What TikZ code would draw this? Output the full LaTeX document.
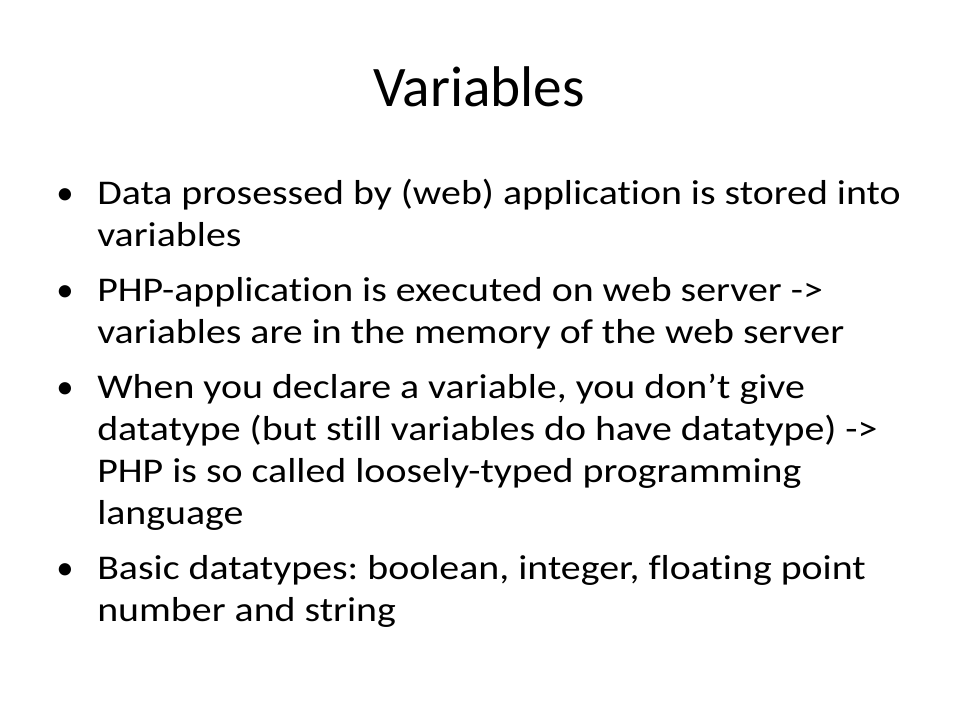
\documentclass[tikz,border=0pt]{standalone}
\usepackage{fontspec}
\setmainfont[Ligatures=NoCommon]{Carlito}
\newfontfamily\bodyfont[Ligatures=NoCommon,FakeStretch=1.15]{Carlito}
\usetikzlibrary{positioning}
\begin{document}
\frenchspacing
\begin{tikzpicture}[x=0.75pt,y=-0.75pt,
  line/.style={anchor=base west,inner sep=0pt,font=\bodyfont\fontsize{26}{32}\selectfont},
  dot/.style={anchor=base,inner sep=0pt,font=\fontsize{26}{32}\selectfont}]
\useasboundingbox (0,0) rectangle (960,720);
% Title
\node[anchor=base,inner sep=0pt,font=\fontsize{43}{52}\selectfont] (title) at (479,107) {Variables};
% Bullet 1
\node[dot] (dot1) at (65,204.5) {•};
\node[line] (l1a) at (97,204.5) {Data prosessed by (web) application is stored into};
\node[line] (l1b) at (97,246.8) {variables};
% Bullet 2
\node[dot] (dot2) at (65,301.25) {•};
\node[line] (l2a) at (97,301.25) {PHP-application is executed on web server ->};
\node[line] (l2b) at (97,343.55) {variables are in the memory of the web server};
% Bullet 3
\node[dot] (dot3) at (65,398) {•};
\node[line] (l3a) at (97,398) {When you declare a variable, you don’t give};
\node[line] (l3b) at (97,440.3) {datatype (but still variables do have datatype) ->};
\node[line] (l3c) at (97,482.6) {PHP is so called loosely-typed programming};
\node[line] (l3d) at (97,524.9) {language};
% Bullet 4
\node[dot] (dot4) at (65,579.35) {•};
\node[line] (l4a) at (97,579.35) {Basic datatypes: boolean, integer, floating point};
\node[line] (l4b) at (97,621.65) {number and string};
\end{tikzpicture}
\end{document}
